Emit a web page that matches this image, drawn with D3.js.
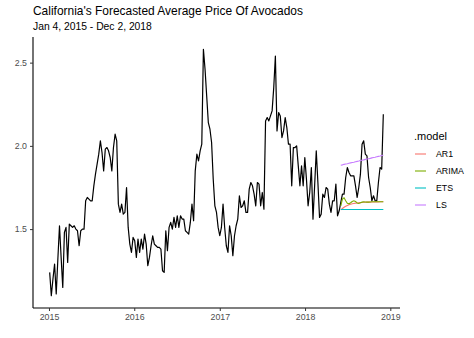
<!DOCTYPE html>
<html><head><meta charset="utf-8">
<script src="https://cdn.jsdelivr.net/npm/d3@7"></script>
<style>html,body{margin:0;padding:0;background:#fff;} svg{display:block;font-family:"Liberation Sans",Arial,Helvetica,sans-serif;}</style>
</head><body>
<script>
// ---- data ----
const titleText = "California's Forecasted Average Price Of Avocados";
const subtitleText = "Jan 4, 2015 - Dec 2, 2018";
const startWeek = "2015-01-04";
const avgPrice = [
1.24,1.10,1.20,1.29,1.11,1.32,1.52,1.33,1.15,1.48,1.51,1.30,1.53,1.52,1.51,1.52,1.50,1.49,1.40,1.49,
1.50,1.50,1.67,1.69,1.68,1.67,1.67,1.76,1.83,1.89,1.95,2.03,1.96,1.85,1.98,1.99,1.97,1.93,1.85,1.99,
2.07,2.03,1.65,1.60,1.65,1.59,1.60,1.75,1.51,1.41,1.36,1.45,1.43,1.33,1.44,1.36,1.44,1.38,1.47,1.41,
1.28,1.33,1.40,1.46,1.41,1.40,1.39,1.39,1.38,1.25,1.24,1.49,1.37,1.51,1.54,1.50,1.57,1.51,1.58,1.51,
1.58,1.56,1.56,1.49,1.48,1.47,1.54,1.65,1.55,1.85,1.95,1.91,1.97,2.01,2.58,2.46,2.30,2.14,2.10,2.02,
1.80,1.64,1.60,1.51,1.46,1.51,1.65,1.51,1.40,1.36,1.52,1.46,1.34,1.46,1.52,1.56,1.70,1.63,1.64,1.67,
1.60,1.60,1.74,1.78,1.76,1.71,1.64,1.78,1.77,1.64,1.72,1.62,2.15,2.17,2.15,2.18,2.21,2.35,2.54,2.09,
2.20,2.18,2.05,2.09,2.17,2.11,2.01,2.01,1.76,1.99,1.99,2.00,1.88,1.76,1.88,1.76,1.93,1.80,1.64,1.72,
1.87,1.56,1.76,1.97,1.78,1.57,1.59,1.71,1.69,1.75,1.74,1.65,1.60,1.67,1.67,1.77,1.58,1.61,1.66,1.71,
1.71,1.81,1.87,1.84,1.82,1.82,1.82,1.76,1.69,1.75,1.83,2.01,2.03,1.95,1.94,1.81,1.75,1.67,1.70,1.67,
1.67,1.78,1.87,1.86,2.19];
const forecastStartIndex = 178;
const models = ["AR1","ARIMA","ETS","LS"];
const modelColors = ["#F8766D","#7CAE00","#00BFC4","#C77CFF"];
const fcAR1 = [1.615,1.624,1.631,1.637,1.642,1.646,1.649,1.652,1.654,1.656,1.657,1.658,1.659,1.660,1.661,1.661,1.662,1.662,1.662,1.663,1.663,1.663,1.663,1.663,1.664,1.664,1.664];
const fcARIMA = [1.640,1.680,1.688,1.670,1.655,1.652,1.658,1.666,1.670,1.666,1.657,1.654,1.658,1.662,1.664,1.663,1.662,1.662,1.663,1.664,1.664,1.664,1.664,1.664,1.664,1.664,1.664];
const fcETS = [1.618,1.618,1.618,1.618,1.618,1.618,1.618,1.618,1.618,1.618,1.618,1.618,1.618,1.618,1.618,1.618,1.618,1.618,1.618,1.618,1.618,1.618,1.618,1.618,1.618,1.618,1.618];
const fcLS = [1.884,1.886,1.889,1.891,1.893,1.896,1.898,1.900,1.902,1.905,1.907,1.909,1.912,1.914,1.916,1.919,1.921,1.923,1.925,1.928,1.930,1.932,1.935,1.937,1.939,1.942,1.944];
const forecasts = [fcAR1, fcARIMA, fcETS, fcLS];
const yTickValues = [1.5, 2.0, 2.5];
const xTickYears = [2015, 2016, 2017, 2018, 2019];

// ---- layout ----
const W = 474, H = 338;
const plot = {left: 33, right: 400, top: 37, bottom: 308};

const svg = d3.select("body").append("svg").attr("width", W).attr("height", H);

const t0 = d3.timeParse("%Y-%m-%d")(startWeek);
const dates = avgPrice.map((_, i) => d3.timeDay.offset(t0, 7 * i));
const series = avgPrice.map((v, i) => ({d: dates[i], v}));

const allVals = avgPrice.concat(...forecasts);
const [vmin, vmax] = d3.extent(allVals);
const vpad = (vmax - vmin) * 0.05;
const [dmin, dmax] = d3.extent(dates);
const dpad = (dmax - dmin) * 0.05;

const x = d3.scaleTime().domain([new Date(+dmin - dpad), new Date(+dmax + dpad)]).range([plot.left, plot.right]);
const y = d3.scaleLinear().domain([vmin - vpad, vmax + vpad]).range([plot.bottom, plot.top]);

// title / subtitle fitted to measured widths
function fitText(sel, target, size) {
  sel.attr("font-size", size);
  const w = sel.node().getComputedTextLength();
  sel.attr("font-size", (size * target / w).toFixed(2));
}
const title = svg.append("text").attr("x", 33).attr("y", 15).attr("fill", "#000").text(titleText);
fitText(title, 270, 13);
const sub = svg.append("text").attr("x", 33).attr("y", 30).attr("fill", "#000").text(subtitleText);
fitText(sub, 119, 10.5);

// axes
const xAxis = d3.axisBottom(x)
  .tickValues(xTickYears.map(yr => new Date(yr, 0, 1)))
  .tickFormat(d3.timeFormat("%Y")).tickSize(3).tickPadding(3).tickSizeOuter(0);
const gx = svg.append("g").attr("transform", `translate(0,${plot.bottom})`).call(xAxis);
const yAxis = d3.axisLeft(y).tickValues(yTickValues).tickFormat(d3.format(".1f")).tickSize(3).tickPadding(3).tickSizeOuter(0);
const gy = svg.append("g").attr("transform", `translate(${plot.left},0)`).call(yAxis);
[gx, gy].forEach(g => {
  g.select(".domain").attr("stroke", "#000").attr("stroke-width", 1.1);
  g.selectAll(".tick line").attr("stroke", "#333").attr("stroke-width", 1);
  g.selectAll(".tick text").attr("fill", "#4D4D4D").attr("font-size", 8.8).attr("font-family", '"Liberation Sans",Arial,sans-serif');
});
gx.select(".domain").attr("d", `M${plot.left},0H${plot.right}`);
gy.select(".domain").attr("d", `M0,${plot.top}V${plot.bottom}`);

// main line
const line = d3.line().x(d => x(d.d)).y(d => y(d.v));
svg.append("path").datum(series).attr("fill", "none").attr("stroke", "#000").attr("stroke-width", 1.2)
  .attr("stroke-linejoin", "round").attr("d", line);

// forecasts
forecasts.forEach((fc, k) => {
  const pts = fc.map((v, j) => ({d: dates[forecastStartIndex + j], v}));
  svg.append("path").datum(pts).attr("fill", "none").attr("stroke", modelColors[k]).attr("stroke-width", 1.1)
    .attr("d", line);
});

// legend
const lg = svg.append("g");
lg.append("text").attr("x", 414).attr("y", 140).attr("font-size", 11).attr("fill", "#000").text(".model");
models.forEach((m, k) => {
  const cy = 154 + k * 17;
  lg.append("line").attr("x1", 415).attr("x2", 426).attr("y1", cy).attr("y2", cy)
    .attr("stroke", modelColors[k]).attr("stroke-width", 1.1);
  lg.append("text").attr("x", 436).attr("y", cy + 3.2).attr("font-size", 8.8).attr("fill", "#000").text(m);
});
</script>
</body></html>
